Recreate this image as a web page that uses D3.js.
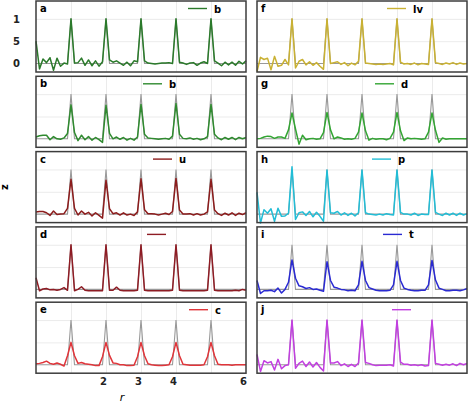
<!DOCTYPE html>
<html>
<head>
<meta charset="utf-8">
<script src="https://cdn.jsdelivr.net/npm/d3@7"></script>
<style>
    body { margin: 0; background: #fff; }
    svg text { font-family: "DejaVu Sans", sans-serif; }
</style>
</head>
<body>
<div id="chart"></div>
<script>
"use strict";

// sample grid (r)
const r = [0, 0.1, 0.2, 0.3, 0.4, 0.5, 0.6, 0.7, 0.8, 0.9,
    1, 1.1, 1.2, 1.3, 1.4, 1.5, 1.6, 1.7, 1.8, 1.9,
    2, 2.1, 2.2, 2.3, 2.4, 2.5, 2.6, 2.7, 2.8, 2.9,
    3, 3.1, 3.2, 3.3, 3.4, 3.5, 3.6, 3.7, 3.8, 3.9,
    4, 4.1, 4.2, 4.3, 4.4, 4.5, 4.6, 4.7, 4.8, 4.9,
    5, 5.1, 5.2, 5.3, 5.4, 5.5, 5.6, 5.7, 5.8, 5.9, 6];

// grey reference curve shown in every panel
const reference = [0, 0, 0, 0, 0, 0, 0, 0, 0, 0,
    10, 0, 0, 0, 0, 0, 0, 0, 0, 0,
    10, 0, 0, 0, 0, 0, 0, 0, 0, 0,
    10, 0, 0, 0, 0, 0, 0, 0, 0, 0,
    10, 0, 0, 0, 0, 0, 0, 0, 0, 0,
    10, 0, 0, 0, 0, 0, 0, 0, 0, 0, 0];

const seriesA = [5, -1.2, 1.0, 0.2, 1.3, -1.5, 1.2, -0.6, 0.1, -0.1,
    10, 0.1, 0.2, 1.2, -0.4, 0.8, -0.5, 0.6, -0.6, 0.4,
    10, 0.8, 0.3, 0.6, 0.1, -0.4, 0.3, -0.5, 0.6, 0.4,
    10, 0.6, 0.1, 0.0, -0.1, 0.0, 0.1, 0.1, 0.2, 0.0,
    10, 0.3, 0.1, -0.2, 0.1, 0.2, -0.4, 0.1, 0.4, 0.0,
    10, 0.6, 0.1, -0.5, 0.3, -0.3, 0.3, -0.4, 0.5, -0.1, 0.6];

const seriesB = [0.4, 0.7, 0.8, 0.8, -0.2, 0.5, 0.0, -0.1, 0.2, 1.2,
    7.6, 1.4, -0.4, 0.8, -0.2, 0.5, -0.3, 0.3, -0.2, -0.8,
    7.5, 1.2, 0.0, 0.4, -0.1, 0.3, -0.3, 0.1, -0.3, 0.4,
    7.7, 1.0, 0.2, 0.1, 0.0, -0.1, 0.0, 0.1, -0.1, 0.6,
    7.9, 1.0, 0.1, 0.0, 0.2, -0.1, 0.1, -0.2, 0.0, 0.5,
    7.7, 1.0, 0.2, -0.2, 0.3, -0.1, 0.3, -0.2, 0.3, 0.0, 0.3];

const seriesC = [0.5, 0.6, 0.6, 0.3, -0.3, 0.7, -0.1, 0.0, 0.1, 1.3,
    7.8, 1.3, -0.2, 0.7, 0.0, 0.4, -0.4, 0.3, -0.3, -0.9,
    7.6, 1.2, 0.1, 0.3, -0.2, 0.3, -0.2, 0.0, -0.3, 0.5,
    7.9, 1.0, 0.1, 0.1, 0.0, -0.2, 0.0, 0.2, -0.1, 0.6,
    8.0, 0.9, 0.0, 0.0, 0.1, -0.2, 0.1, -0.2, 0.0, 0.5,
    7.8, 0.9, 0.1, -0.3, 0.2, -0.2, 0.3, -0.3, 0.2, -0.1, 0.3];

const seriesD = [2.6, -0.3, 0.1, 0.2, -0.1, 0.0, -0.2, 0.0, 0.4, -0.2,
    10, -0.3, 0.0, 0.6, -0.2, -0.3, -0.3, -0.3, -0.3, -0.3,
    10, -0.2, -0.2, 0.5, -0.2, -0.3, -0.3, -0.3, -0.3, -0.2,
    10, -0.2, -0.3, -0.3, -0.3, -0.3, -0.3, -0.3, -0.3, -0.2,
    10, -0.2, -0.3, -0.3, -0.3, -0.3, -0.3, -0.3, -0.3, -0.2,
    10, -0.2, -0.3, -0.3, -0.3, -0.3, -0.3, -0.2, -0.3, 0.0, -0.2];

const seriesE = [0.2, 0.3, 0.5, 0.8, 0.3, 0.1, 0.4, 0.1, -0.3, 2.0,
    5.0, 2.0, 0.3, 0.5, 0.2, 0.1, 0.0, -0.2, -0.2, 1.8,
    5.0, 2.1, 0.4, 0.3, 0.0, 0.0, -0.2, -0.2, -0.1, 1.8,
    5.0, 2.0, 0.2, 0.0, -0.1, -0.2, -0.2, -0.1, 0.0, 1.8,
    5.0, 2.0, 0.1, 0.0, -0.1, -0.1, -0.1, -0.1, 0.0, 1.8,
    5.0, 2.0, 0.1, 0.0, 0.0, 0.0, -0.1, 0.0, 0.0, 0.0, 0.0];

const seriesF = [-1.8, 1.4, 0.9, 1.2, -1.4, 1.6, -0.6, -0.4, 0.9, -0.3,
    10, -1.0, 0.5, 0.9, -0.3, 0.4, -0.4, 0.2, -0.6, -1.3,
    10, 0.0, 0.2, 0.4, -0.2, 0.2, -0.5, 0.1, -0.3, 0.5,
    10, 0.1, 0.0, -0.1, -0.2, -0.1, -0.2, -0.1, 0.0, -0.3,
    10, 0.3, -0.1, 0.0, -0.2, 0.1, -0.3, 0.0, -0.1, -0.2,
    10, 0.2, 0.0, -0.2, 0.1, -0.1, 0.2, -0.2, 0.1, -0.1, 0.0];

const seriesG = [0.0, 0.1, 0.4, 0.6, 0.5, 0.1, 0.4, 0.4, 0.1, 2.0,
    5.8, 2.2, -1.2, 0.8, -0.2, 0.0, 0.1, -0.1, 0.0, 1.4,
    5.9, 2.0, 0.0, 0.4, 0.2, -0.1, 0.0, -0.1, 0.1, 1.5,
    5.8, 1.8, -0.3, 0.1, -0.1, 0.0, 0.0, -0.2, 0.1, 1.5,
    5.9, 1.8, -0.4, 0.2, 0.0, 0.1, 0.0, -0.1, 0.0, 1.5,
    5.8, 1.9, -0.8, 0.2, -0.1, 0.0, 0.0, 0.0, 0.0, 0.0, 0.0];

const seriesH = [4.9, -2.0, 1.0, 0.2, 1.2, -1.6, 1.3, -0.5, -0.4, 0.2,
    10.6, -1.2, 0.3, 0.5, -0.3, 0.6, -0.6, 0.4, -0.5, -1.6,
    9.9, 0.3, 0.2, 0.6, -0.2, 0.3, -0.3, 0.2, -0.4, 0.3,
    9.9, 0.3, 0.0, -0.1, -0.2, 0.0, -0.2, 0.1, -0.1, -0.2,
    9.9, 0.4, 0.0, 0.0, -0.2, 0.2, -0.3, 0.0, -0.1, -0.1,
    9.9, 0.4, 0.0, -0.3, 0.2, -0.2, 0.2, -0.3, 0.2, -0.2, 0.1];

const seriesI = [2.0, -0.9, -0.3, -0.3, -0.2, -0.5, 0.3, -0.8, 0.0, 1.6,
    6.6, 2.5, 0.8, 0.6, 0.2, 0.4, 0.0, 0.1, -0.2, -0.4,
    6.2, 2.0, 0.5, 0.3, 0.0, -0.1, -0.3, -0.2, -0.3, 1.0,
    6.3, 2.0, 0.4, 0.1, -0.2, -0.3, -0.3, -0.3, -0.2, 1.0,
    6.3, 2.0, 0.3, 0.0, -0.2, -0.3, -0.3, -0.2, -0.2, 1.0,
    6.5, 2.1, 0.3, 0.0, -0.3, -0.3, -0.2, -0.2, -0.3, -0.1, 0.2];

const seriesJ = [2.3, -1.5, 0.9, 0.4, 0.7, -1.2, 1.2, -0.9, -0.2, 0.0,
    10, -0.8, 0.3, 0.8, -0.4, 0.6, -0.5, 0.5, -0.6, -1.4,
    10, 0.4, 0.4, 0.7, -0.2, 0.2, -0.4, 0.1, -0.4, 0.4,
    10, 0.5, 0.3, 0.0, -0.2, -0.1, -0.1, -0.1, 0.0, -0.3,
    10, 0.6, 0.1, 0.1, -0.1, 0.0, -0.2, 0.0, -0.3, -0.2,
    10, 0.3, 0.1, -0.1, 0.1, -0.1, 0.2, -0.2, 0.3, 0.0, 0.3];

// panel letters, legend names and colours (left column a-e, right column f-j)
const panelLetters = ["a", "b", "c", "d", "e", "f", "g", "h", "i", "j"];
const legendNames = ["b", "b", "u", "", "c", "lv", "d", "p", "t", ""];
const panelColors = ["#2b7a2b", "#2f8a2f", "#8c1c1c", "#8e1c24", "#e0353a",
    "#c9b133", "#33a533", "#22bdd6", "#2a2ad2", "#c23fe0"];
const panelSeries = [seriesA, seriesB, seriesC, seriesD, seriesE,
    seriesF, seriesG, seriesH, seriesI, seriesJ];

// tick labels as printed in the figure
const xTicks = [2, 3, 4, 6];
const yTicks = [10, 5, 0];
const yTickLabels = ["1", "5", "0"];

function styleTicks(axis) {
    axis.select(".domain").remove();
    axis.selectAll("text")
        .style("font-size", "10px")
        .style("font-weight", "bold")
        .style("font-family", "DejaVu Sans, sans-serif")
        .attr("fill", "#222");
}

function draw() {
    let svg = d3.select("#chart").append("svg")
        .attr("width", 474)
        .attr("height", 406);

    let panelWidth = 210;
    let panelHeight = 71;
    let columnLeft = [36, 257];
    let rowTop = [1, 76.3, 151.6, 226.9, 302.2];

    let xScale = d3.scaleLinear().domain([0, 6]).range([0, panelWidth]);
    let yScale = d3.scaleLinear().domain([-1.9, 14.0]).range([panelHeight, 0]);

    let line = d3.line()
        .x((d, i) => xScale(r[i]))
        .y(d => yScale(d));

    for (let k = 0; k < panelSeries.length; k++) {
        let col = Math.floor(k / 5);
        let row = k % 5;

        let panel = svg.append("g")
            .attr("transform", `translate(${columnLeft[col]},${rowTop[row]})`);

        // grid
        panel.append("g")
            .attr("class", "grid")
            .call(d3.axisBottom(xScale).tickValues([1, 2, 3, 4, 5])
                .tickSizeInner(panelHeight).tickSizeOuter(0).tickFormat(""));
        panel.append("g")
            .attr("class", "grid")
            .call(d3.axisLeft(yScale).tickValues([5, 10])
                .tickSizeInner(-panelWidth).tickSizeOuter(0).tickFormat(""));
        panel.selectAll(".grid .domain").remove();
        panel.selectAll(".grid line").attr("stroke", "#e6e6e6").attr("stroke-width", 0.8);

        // grey reference and coloured series
        panel.append("path")
            .datum(reference)
            .attr("d", line)
            .attr("fill", "none")
            .attr("stroke", "#999")
            .attr("stroke-width", 1.1);

        panel.append("path")
            .datum(panelSeries[k])
            .attr("d", line)
            .attr("fill", "none")
            .attr("stroke", panelColors[k])
            .attr("stroke-width", 1.5)
            .attr("stroke-linejoin", "round");

        // frame
        panel.append("rect")
            .attr("width", panelWidth)
            .attr("height", panelHeight)
            .attr("fill", "none")
            .attr("stroke", "#3c3c3c")
            .attr("stroke-width", 1.5);

        // panel letter
        panel.append("text")
            .attr("x", 4)
            .attr("y", 11)
            .style("font-size", "10px")
            .style("font-weight", "bold")
            .text(panelLetters[k]);

        // legend
        let legendX = [152, 107, 117, 111, 153, 130, 118, 115, 126, 135][k];
        panel.append("line")
            .attr("x1", legendX)
            .attr("x2", legendX + 19)
            .attr("y1", 7.5)
            .attr("y2", 7.5)
            .attr("stroke", panelColors[k])
            .attr("stroke-width", 1.4);
        panel.append("text")
            .attr("x", legendX + 26)
            .attr("y", 11.5)
            .style("font-size", "10px")
            .style("font-weight", "bold")
            .text(legendNames[k]);

        // y tick labels on the first panel only
        if (k === 0) {
            let yAxis = panel.append("g")
                .call(d3.axisLeft(yScale).tickValues(yTicks)
                    .tickSize(0).tickPadding(16)
                    .tickFormat((d, i) => yTickLabels[i]));
            styleTicks(yAxis);
        }

        // x tick labels under the bottom-left panel
        if (k === 4) {
            let xAxis = panel.append("g")
                .attr("transform", `translate(-3,${panelHeight})`)
                .call(d3.axisBottom(xScale).tickValues(xTicks)
                    .tickSize(0).tickPadding(5)
                    .tickFormat(d3.format("d")));
            styleTicks(xAxis);
        }
    }

    // axis titles
    svg.append("text")
        .attr("transform", "translate(8,187) rotate(-90)")
        .style("text-anchor", "middle")
        .style("font-size", "10px")
        .style("font-weight", "bold")
        .text("z");

    svg.append("text")
        .attr("x", 122)
        .attr("y", 401)
        .style("text-anchor", "middle")
        .style("font-size", "11px")
        .style("font-style", "italic")
        .text("r");
}

draw();
</script>
</body>
</html>
